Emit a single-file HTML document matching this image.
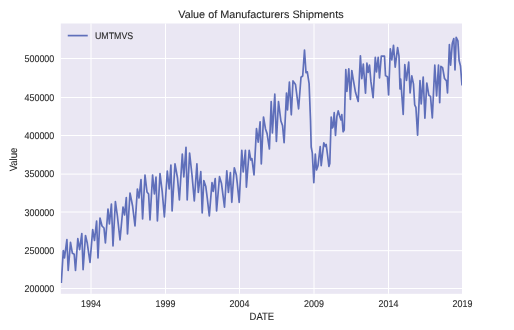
<!DOCTYPE html>
<html><head><meta charset="utf-8"><style>
html,body{margin:0;padding:0;background:#fff;width:514px;height:330px;overflow:hidden}
svg{display:block;will-change:transform}
text{font-family:"Liberation Sans",sans-serif;fill:#262626;stroke:#262626;stroke-width:0.1px;text-rendering:geometricPrecision}
.t{font-size:8.8px}
.lg{font-size:8.8px}
.ti{font-size:10.83px}
.lb{font-size:9.4px}
</style></head><body>
<svg width="514" height="330" viewBox="0 0 514 330">
<rect x="60.8" y="23.5" width="401.2" height="270.3" fill="#EAE7F3"/>
<line x1="60.8" x2="462.0" y1="58.50" y2="58.50" stroke="#fff" stroke-width="1"/>
<g transform="translate(54.30 62.35) scale(0.91 1)"><text x="0" y="0" text-anchor="end" style="font-size:9.8px">500000</text></g>
<line x1="60.8" x2="462.0" y1="97.50" y2="97.50" stroke="#fff" stroke-width="1"/>
<g transform="translate(54.30 100.66) scale(0.91 1)"><text x="0" y="0" text-anchor="end" style="font-size:9.8px">450000</text></g>
<line x1="60.8" x2="462.0" y1="135.50" y2="135.50" stroke="#fff" stroke-width="1"/>
<g transform="translate(54.30 138.97) scale(0.91 1)"><text x="0" y="0" text-anchor="end" style="font-size:9.8px">400000</text></g>
<line x1="60.8" x2="462.0" y1="174.10" y2="174.10" stroke="#fff" stroke-width="1"/>
<g transform="translate(54.30 177.27) scale(0.91 1)"><text x="0" y="0" text-anchor="end" style="font-size:9.8px">350000</text></g>
<line x1="60.8" x2="462.0" y1="212.00" y2="212.00" stroke="#fff" stroke-width="1"/>
<g transform="translate(54.30 215.58) scale(0.91 1)"><text x="0" y="0" text-anchor="end" style="font-size:9.8px">300000</text></g>
<line x1="60.8" x2="462.0" y1="250.70" y2="250.70" stroke="#fff" stroke-width="1"/>
<g transform="translate(54.30 253.89) scale(0.91 1)"><text x="0" y="0" text-anchor="end" style="font-size:9.8px">250000</text></g>
<line x1="60.8" x2="462.0" y1="288.50" y2="288.50" stroke="#fff" stroke-width="1"/>
<g transform="translate(54.30 292.20) scale(0.91 1)"><text x="0" y="0" text-anchor="end" style="font-size:9.8px">200000</text></g>
<line x1="91.00" x2="91.00" y1="23.5" y2="293.8" stroke="#fff" stroke-width="1"/>
<g transform="translate(91.00 306.90) scale(0.91 1)"><text x="0" y="0" text-anchor="middle" style="font-size:9.8px">1994</text></g>
<line x1="165.50" x2="165.50" y1="23.5" y2="293.8" stroke="#fff" stroke-width="1"/>
<g transform="translate(165.50 306.90) scale(0.91 1)"><text x="0" y="0" text-anchor="middle" style="font-size:9.8px">1999</text></g>
<line x1="239.50" x2="239.50" y1="23.5" y2="293.8" stroke="#fff" stroke-width="1"/>
<g transform="translate(239.50 306.90) scale(0.91 1)"><text x="0" y="0" text-anchor="middle" style="font-size:9.8px">2004</text></g>
<line x1="314.00" x2="314.00" y1="23.5" y2="293.8" stroke="#fff" stroke-width="1"/>
<g transform="translate(314.00 306.90) scale(0.91 1)"><text x="0" y="0" text-anchor="middle" style="font-size:9.8px">2009</text></g>
<line x1="388.50" x2="388.50" y1="23.5" y2="293.8" stroke="#fff" stroke-width="1"/>
<g transform="translate(388.50 306.90) scale(0.91 1)"><text x="0" y="0" text-anchor="middle" style="font-size:9.8px">2014</text></g>
<g transform="translate(462.50 306.90) scale(0.91 1)"><text x="0" y="0" text-anchor="middle" style="font-size:9.8px">2019</text></g>
<clipPath id="c"><rect x="60.8" y="23.5" width="401.2" height="270.3"/></clipPath>
<path clip-path="url(#c)" d="M61.30,283.00 L63.30,250.50 L64.50,257.80 L66.90,239.60 L68.20,270.50 L70.50,242.40 L72.40,253.30 L74.20,254.20 L75.50,270.50 L77.80,238.70 L79.60,249.60 L81.80,233.60 L83.10,269.60 L85.50,235.50 L87.30,243.30 L90.00,262.40 L92.70,229.60 L94.50,240.50 L96.60,221.00 L98.00,258.00 L100.00,218.00 L102.00,226.00 L104.00,228.00 L105.40,243.00 L108.00,209.00 L109.40,224.00 L111.40,204.00 L113.00,246.00 L115.40,201.60 L117.40,216.00 L120.00,240.00 L123.00,207.00 L124.60,215.00 L126.30,197.50 L127.50,234.00 L130.00,193.00 L132.60,206.00 L135.00,226.00 L137.40,189.00 L139.00,198.00 L141.00,179.60 L142.60,219.00 L145.00,175.00 L147.00,192.00 L148.60,194.00 L150.00,220.00 L152.60,175.00 L154.40,194.00 L156.00,177.00 L157.40,221.00 L160.00,173.60 L162.20,191.50 L164.40,217.00 L167.30,171.00 L169.20,189.00 L170.90,165.00 L172.10,211.00 L175.00,163.80 L177.50,178.00 L179.40,200.00 L182.30,154.00 L183.80,177.00 L186.00,147.30 L187.20,200.00 L189.60,153.00 L192.00,175.00 L194.30,201.00 L196.90,163.90 L198.30,192.40 L200.80,171.70 L202.20,213.00 L203.80,180.60 L205.80,186.50 L207.30,198.30 L209.30,216.00 L212.00,182.60 L213.20,191.40 L215.20,178.60 L216.60,211.00 L219.50,176.70 L221.50,183.60 L224.50,207.20 L226.80,170.80 L228.40,192.40 L230.40,172.70 L231.80,202.30 L234.30,167.80 L236.30,174.70 L237.30,183.60 L239.20,202.30 L241.80,150.40 L243.20,172.00 L245.40,150.40 L246.40,187.20 L249.20,150.40 L250.80,160.00 L251.90,158.60 L254.00,175.00 L256.50,128.50 L258.20,142.20 L260.10,121.80 L261.30,164.00 L263.50,117.00 L265.50,129.00 L267.10,133.60 L269.40,149.00 L271.20,101.50 L272.40,133.00 L274.80,94.20 L276.40,141.50 L278.50,101.50 L280.90,121.00 L282.60,125.80 L284.10,142.70 L286.50,93.00 L287.50,110.00 L289.40,82.10 L291.30,114.80 L293.00,80.90 L295.50,84.50 L298.60,108.80 L301.00,77.30 L302.70,76.00 L304.50,50.00 L306.00,72.70 L307.30,71.80 L309.10,83.60 L310.50,120.00 L311.20,147.00 L312.30,152.90 L313.80,182.60 L315.30,154.00 L316.50,169.90 L318.00,165.60 L320.20,146.50 L321.20,165.60 L323.80,142.90 L325.30,146.40 L326.20,144.50 L327.60,155.50 L328.90,166.40 L329.80,163.60 L331.20,117.00 L332.20,128.00 L333.00,127.00 L334.20,112.70 L335.50,135.50 L336.90,116.40 L338.20,110.90 L339.50,115.50 L341.00,120.00 L341.80,114.50 L343.10,131.80 L344.20,130.00 L345.80,69.50 L346.90,91.40 L348.80,68.90 L350.40,99.50 L351.80,70.50 L353.10,78.60 L355.50,92.30 L358.20,101.40 L360.40,55.90 L361.80,78.60 L363.30,64.10 L365.50,93.20 L366.90,63.20 L368.20,72.30 L369.50,65.00 L370.90,81.40 L373.10,97.70 L375.30,57.40 L376.50,72.00 L378.20,57.40 L379.50,78.00 L381.30,56.20 L384.50,56.20 L385.50,75.60 L387.40,76.80 L388.60,95.00 L390.30,48.90 L391.80,59.80 L393.50,45.30 L395.20,67.10 L397.60,47.70 L399.00,56.20 L400.00,88.90 L400.70,79.20 L403.20,114.40 L404.80,64.70 L406.50,80.50 L408.70,62.20 L410.10,93.00 L411.80,75.80 L413.50,84.20 L414.70,104.80 L415.90,107.30 L417.60,135.20 L420.00,80.60 L421.20,104.00 L423.20,77.00 L424.90,118.20 L426.80,83.00 L428.80,95.20 L430.50,96.40 L432.30,118.00 L434.80,65.20 L436.60,96.00 L438.50,65.20 L439.70,102.70 L440.90,66.40 L442.60,67.60 L444.50,78.50 L446.50,80.90 L447.50,93.00 L449.40,44.50 L450.60,65.20 L452.30,43.30 L453.80,38.50 L455.00,70.00 L456.20,37.30 L457.90,40.90 L459.10,60.50 L460.50,66.00 L462.00,85.50" fill="none" stroke="#5F6FBA" stroke-width="1.7" stroke-linejoin="round" stroke-linecap="butt"/>
<line x1="68.6" x2="86.9" y1="35.6" y2="35.6" stroke="#5F6FBA" stroke-width="1.7" stroke-linecap="square"/>
<g transform="translate(95.00 38.70) scale(0.92 1)"><text x="0" y="0" text-anchor="start" style="font-size:9.6px">UMTMVS</text></g>
<text x="260.9" y="18.1" text-anchor="middle" class="ti">Value of Manufacturers Shipments</text>
<g transform="translate(261.90 319.80) scale(0.9 1)"><text x="0" y="0" text-anchor="middle" style="font-size:10.56px">DATE</text></g>
<g transform="translate(17.40 159.50) rotate(-90) scale(0.9 1)"><text x="0" y="0" text-anchor="middle" style="font-size:10.56px">Value</text></g>
</svg></body></html>
